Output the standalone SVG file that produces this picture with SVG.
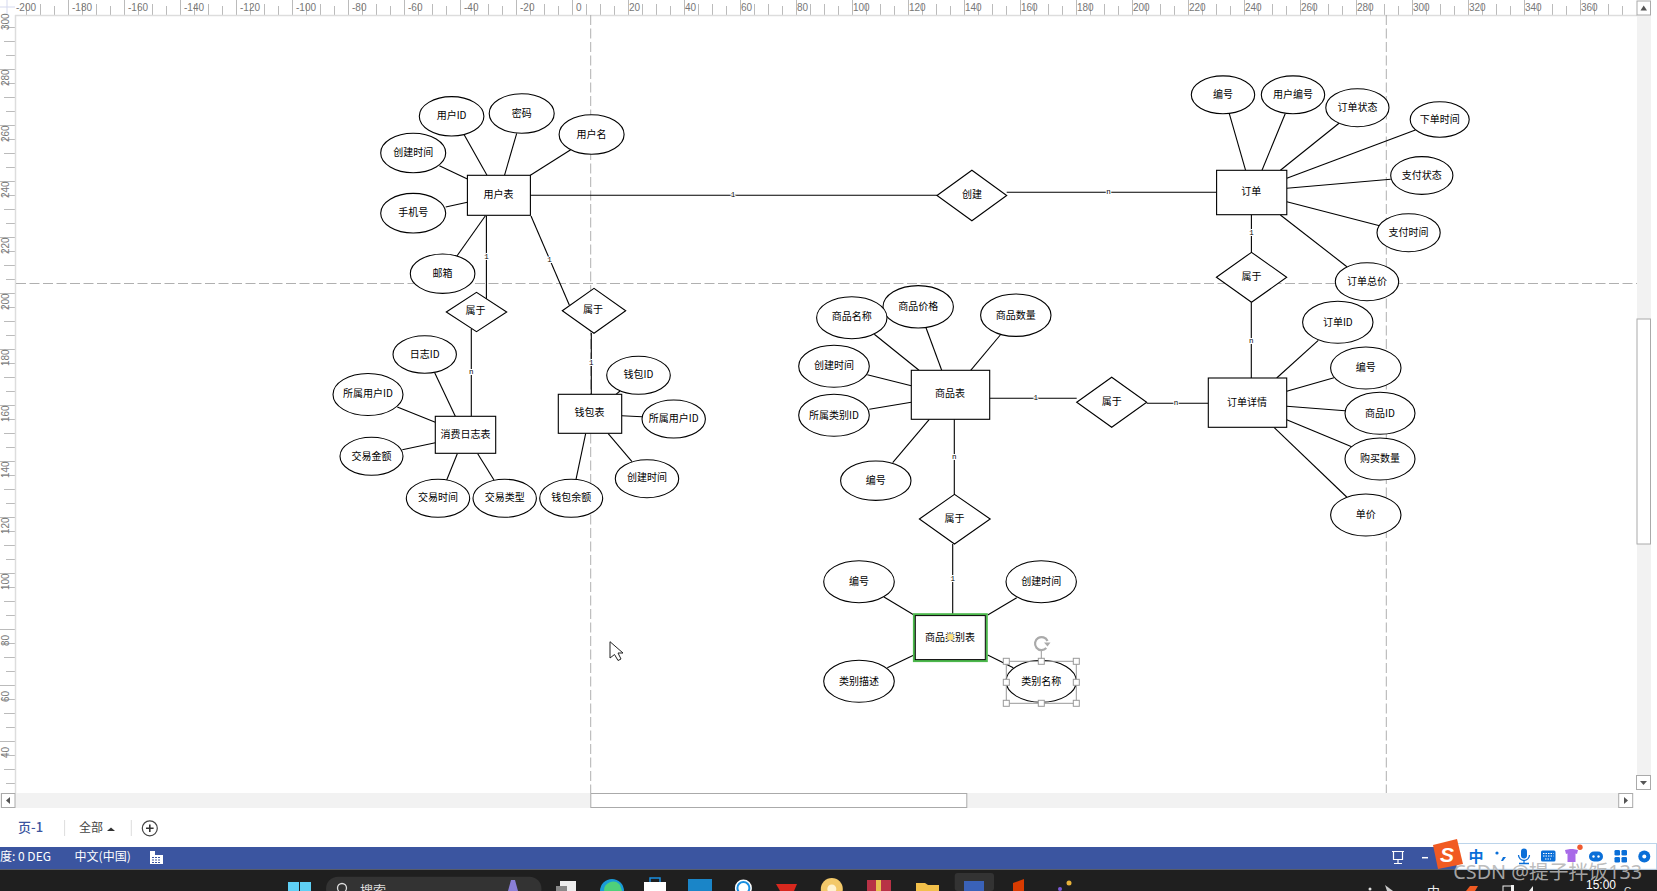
<svg xmlns="http://www.w3.org/2000/svg" width="1657" height="891" viewBox="0 0 1657 891">
<style>
.s{fill:#fff;stroke:#000;stroke-width:1.1}
.t{font:10px "Noto Sans CJK SC","Liberation Sans",sans-serif;fill:#000;text-anchor:middle}
.c line{stroke:#000;stroke-width:1.1}
.l{font:7.5px "Liberation Mono",monospace;fill:#000;text-anchor:middle;stroke:#fff;stroke-width:2;paint-order:stroke}
.g{stroke:#b0b0b0;stroke-width:1;stroke-dasharray:10 3.5;fill:none}
.r{font:10px "Liberation Sans",sans-serif;fill:#777}
.h{fill:#fff;stroke:#999;stroke-width:1}
.u{font:12px "Noto Sans CJK SC","Liberation Sans",sans-serif;fill:#fff}
.b{fill:#f2f2f2}
.btn{fill:#fff;stroke:#aaa;stroke-width:1}
.ime{fill:#0a6fd8}
</style>
<defs>
<pattern id="px" patternUnits="userSpaceOnUse" x="12" y="0" width="56" height="15">
<path d="M.5 0V15M14.5 4V15M28.5 4V15M42.5 6V15" stroke="#bbb" fill="none"/>
</pattern>
<pattern id="py" patternUnits="userSpaceOnUse" x="0" y="13" width="15" height="56">
<path d="M0 .5H15M1 14.5H15M4 28.5H15M6 42.5H15" stroke="#bbb" fill="none"/>
</pattern>
</defs>
<rect width="1657" height="891" fill="#fff"/>

<g id="rulers">
<rect x="16" y="0" width="1620" height="15" fill="url(#px)"/>
<rect x="0" y="15" width="15" height="778" fill="url(#py)"/>
<path d="M0 7H15M7 0V15" stroke="#d5d9ee" fill="none"/>
<path d="M15.5 15V793M15 15.5H1637" stroke="#ddd" stroke-width="1.5" fill="none"/>
<g class="r">
<text x="16" y="10.5">-200</text><text x="72" y="10.5">-180</text><text x="128" y="10.5">-160</text><text x="184" y="10.5">-140</text><text x="240" y="10.5">-120</text><text x="296" y="10.5">-100</text><text x="352" y="10.5">-80</text><text x="408" y="10.5">-60</text><text x="464" y="10.5">-40</text><text x="520" y="10.5">-20</text><text x="576" y="10.5">0</text><text x="629" y="10.5">20</text><text x="685" y="10.5">40</text><text x="741" y="10.5">60</text><text x="797" y="10.5">80</text><text x="853" y="10.5">100</text><text x="909" y="10.5">120</text><text x="965" y="10.5">140</text><text x="1021" y="10.5">160</text><text x="1077" y="10.5">180</text><text x="1133" y="10.5">200</text><text x="1189" y="10.5">220</text><text x="1245" y="10.5">240</text><text x="1301" y="10.5">260</text><text x="1357" y="10.5">280</text><text x="1413" y="10.5">300</text><text x="1469" y="10.5">320</text><text x="1525" y="10.5">340</text><text x="1581" y="10.5">360</text>
<text transform="translate(8.5,30) rotate(-90)">300</text><text transform="translate(8.5,86) rotate(-90)">280</text><text transform="translate(8.5,142) rotate(-90)">260</text><text transform="translate(8.5,198) rotate(-90)">240</text><text transform="translate(8.5,254) rotate(-90)">220</text><text transform="translate(8.5,310) rotate(-90)">200</text><text transform="translate(8.5,366) rotate(-90)">180</text><text transform="translate(8.5,422) rotate(-90)">160</text><text transform="translate(8.5,478) rotate(-90)">140</text><text transform="translate(8.5,534) rotate(-90)">120</text><text transform="translate(8.5,590) rotate(-90)">100</text><text transform="translate(8.5,646) rotate(-90)">80</text><text transform="translate(8.5,702) rotate(-90)">60</text><text transform="translate(8.5,758) rotate(-90)">40</text>
</g>
</g>

<g id="guides">
<path class="g" d="M16 283.5H1637"/>
<path class="g" d="M590.7 15V793"/>
<path class="g" d="M1386.3 15V793"/>
</g>

<g id="connectors" class="c">
<line x1="464.3" y1="135" x2="487" y2="175.3"/>
<line x1="516.7" y1="133.3" x2="504.5" y2="175.3"/>
<line x1="570.7" y1="149.7" x2="530.4" y2="175.3"/>
<line x1="439.4" y1="165.7" x2="467.4" y2="179"/>
<line x1="445.7" y1="207" x2="467.4" y2="202.3"/>
<line x1="456.9" y1="256" x2="485.4" y2="215.7"/>
<line x1="486.4" y1="215.7" x2="486.4" y2="299"/>
<line x1="531" y1="216" x2="569.3" y2="305"/>
<line x1="530.4" y1="195.3" x2="937" y2="195.3"/>
<line x1="1006.7" y1="192.3" x2="1216.6" y2="192.3"/>
<line x1="1229.3" y1="113.7" x2="1245.6" y2="170.3"/>
<line x1="1285.2" y1="113.7" x2="1262" y2="170.3"/>
<line x1="1339" y1="123.3" x2="1280.4" y2="170.3"/>
<line x1="1415.4" y1="130" x2="1286.8" y2="178.3"/>
<line x1="1390.7" y1="179.3" x2="1286.8" y2="188.3"/>
<line x1="1379.6" y1="225.7" x2="1286.8" y2="201.7"/>
<line x1="1346.9" y1="266.7" x2="1280.4" y2="215"/>
<line x1="1251.4" y1="215" x2="1251.4" y2="252.5"/>
<line x1="1251.3" y1="302.3" x2="1251.3" y2="378"/>
<line x1="1318.3" y1="340.3" x2="1276.7" y2="378"/>
<line x1="1334" y1="377.7" x2="1286.7" y2="391.3"/>
<line x1="1345" y1="410.7" x2="1286.7" y2="406.3"/>
<line x1="1351.7" y1="446.7" x2="1286.7" y2="419.7"/>
<line x1="1346.7" y1="497" x2="1274" y2="427.3"/>
<line x1="1146.7" y1="403.3" x2="1208.3" y2="403.3"/>
<line x1="989.7" y1="398.3" x2="1076.7" y2="398.3"/>
<line x1="874.3" y1="334.3" x2="919" y2="370.3"/>
<line x1="926" y1="327.7" x2="941.7" y2="370.3"/>
<line x1="1000.3" y1="335" x2="970.7" y2="370.3"/>
<line x1="867.3" y1="374.7" x2="911.3" y2="385.7"/>
<line x1="869.3" y1="409.3" x2="911.3" y2="402.3"/>
<line x1="892.7" y1="462.7" x2="929.3" y2="419.3"/>
<line x1="954.3" y1="419.3" x2="954.3" y2="494.3"/>
<line x1="952.7" y1="544" x2="952.7" y2="614.3"/>
<line x1="884" y1="597" x2="914" y2="615"/>
<line x1="1016.7" y1="597.7" x2="987.7" y2="615"/>
<line x1="887.3" y1="667.7" x2="914" y2="655"/>
<line x1="987.7" y1="655" x2="1013.3" y2="667.7"/>
<line x1="471.3" y1="329" x2="471.3" y2="416.3"/>
<line x1="591.3" y1="333" x2="591.3" y2="394.3"/>
<line x1="434.7" y1="372.7" x2="455.3" y2="416.3"/>
<line x1="397.3" y1="407" x2="435.3" y2="422.3"/>
<line x1="402.3" y1="449.7" x2="435.3" y2="442.7"/>
<line x1="446.7" y1="480" x2="457.3" y2="453.7"/>
<line x1="494" y1="480" x2="477.7" y2="453.7"/>
<line x1="576" y1="479.3" x2="585.7" y2="433.3"/>
<line x1="632" y1="461.7" x2="608" y2="433.3"/>
<line x1="642" y1="416.7" x2="621.7" y2="415.7"/>
<line x1="620" y1="391" x2="616" y2="394.3"/>
<text class="l" x="486.4" y="259">1</text>
<text class="l" x="549.5" y="261.5">1</text>
<text class="l" x="733" y="197">1</text>
<text class="l" x="1108.5" y="194">n</text>
<text class="l" x="1251.4" y="234.5">1</text>
<text class="l" x="1251.3" y="343">n</text>
<text class="l" x="1035.7" y="400">1</text>
<text class="l" x="1176" y="405">n</text>
<text class="l" x="954.3" y="459">n</text>
<text class="l" x="952.7" y="580.5">1</text>
<text class="l" x="471.3" y="374">n</text>
<text class="l" x="591.3" y="364.5">1</text>
</g>

<g id="user-table"><rect class="s" x="467.4" y="175.3" width="63" height="40"/><text class="t" x="498.5" y="198">用户表</text></g>
<g id="user-id"><ellipse class="s" cx="451.6" cy="116.3" rx="32.3" ry="19.7"/><text class="t" x="451.6" y="119">用户ID</text></g>
<g id="user-pwd"><ellipse class="s" cx="521.7" cy="113.5" rx="32.5" ry="19.8"/><text class="t" x="521.7" y="117">密码</text></g>
<g id="user-name"><ellipse class="s" cx="591.6" cy="134.5" rx="32.5" ry="19.8"/><text class="t" x="591.6" y="138">用户名</text></g>
<g id="user-created"><ellipse class="s" cx="413.2" cy="153" rx="32.5" ry="19.7"/><text class="t" x="413.2" y="156">创建时间</text></g>
<g id="user-phone"><ellipse class="s" cx="413.2" cy="213.2" rx="32.5" ry="19.8"/><text class="t" x="413.2" y="216">手机号</text></g>
<g id="user-mail"><ellipse class="s" cx="442.6" cy="273.7" rx="32.3" ry="19.7"/><text class="t" x="442.6" y="277">邮箱</text></g>

<g id="rel-create"><polygon class="s" points="937,195.5 971.9,170.3 1006.7,195.5 971.9,220.7"/><text class="t" x="971.9" y="198">创建</text></g>
<g id="rel-belong-log"><polygon class="s" points="446.3,312 476.5,292.3 506.7,312 476.5,331.7"/><text class="t" x="475.5" y="314">属于</text></g>
<g id="rel-belong-wallet"><polygon class="s" points="562.3,310.8 594,288.3 625.7,310.8 594,333.3"/><text class="t" x="593" y="313">属于</text></g>

<g id="log-table"><rect class="s" x="435.3" y="416.3" width="60.4" height="37"/><text class="t" x="465.5" y="437.5">消费日志表</text></g>
<g id="log-id"><ellipse class="s" cx="424.7" cy="354.5" rx="31.7" ry="18.8"/><text class="t" x="424.7" y="358">日志ID</text></g>
<g id="log-user"><ellipse class="s" cx="368" cy="394.5" rx="35" ry="21"/><text class="t" x="368" y="397">所属用户ID</text></g>
<g id="log-amount"><ellipse class="s" cx="371.5" cy="456.3" rx="31.5" ry="19"/><text class="t" x="371.5" y="459.5">交易金额</text></g>
<g id="log-time"><ellipse class="s" cx="438" cy="498.3" rx="31.7" ry="19"/><text class="t" x="438" y="501">交易时间</text></g>
<g id="log-type"><ellipse class="s" cx="504.7" cy="498.3" rx="31.7" ry="19"/><text class="t" x="504.7" y="501">交易类型</text></g>

<g id="wallet-table"><rect class="s" x="558.3" y="394.3" width="63.4" height="39"/><text class="t" x="589.5" y="416">钱包表</text></g>
<g id="wallet-id"><ellipse class="s" cx="638.5" cy="375.3" rx="31.8" ry="19"/><text class="t" x="638.5" y="378">钱包ID</text></g>
<g id="wallet-user"><ellipse class="s" cx="673.7" cy="419" rx="31.7" ry="19"/><text class="t" x="673.7" y="422">所属用户ID</text></g>
<g id="wallet-created"><ellipse class="s" cx="647" cy="478.7" rx="31.7" ry="19"/><text class="t" x="647" y="481">创建时间</text></g>
<g id="wallet-balance"><ellipse class="s" cx="571.2" cy="498.3" rx="31.5" ry="19"/><text class="t" x="571.2" y="501">钱包余额</text></g>

<g id="order-table"><rect class="s" x="1216.6" y="170.3" width="70.2" height="44.4"/><text class="t" x="1251.3" y="194.5">订单</text></g>
<g id="order-no"><ellipse class="s" cx="1223" cy="94.8" rx="31.7" ry="18.9"/><text class="t" x="1223" y="98">编号</text></g>
<g id="order-user"><ellipse class="s" cx="1293" cy="94.8" rx="31.7" ry="18.9"/><text class="t" x="1293" y="98">用户编号</text></g>
<g id="order-status"><ellipse class="s" cx="1357.4" cy="107.7" rx="31.6" ry="19"/><text class="t" x="1357.4" y="111">订单状态</text></g>
<g id="order-time"><ellipse class="s" cx="1439.7" cy="119.5" rx="29.5" ry="17.8"/><text class="t" x="1439.7" y="123">下单时间</text></g>
<g id="order-pay"><ellipse class="s" cx="1421.8" cy="175.5" rx="31.1" ry="18.9"/><text class="t" x="1421.8" y="179">支付状态</text></g>
<g id="order-paytime"><ellipse class="s" cx="1408.6" cy="232.7" rx="31.6" ry="19"/><text class="t" x="1408.6" y="236">支付时间</text></g>
<g id="order-total"><ellipse class="s" cx="1367" cy="281.7" rx="31.7" ry="19"/><text class="t" x="1367" y="285">订单总价</text></g>

<g id="rel-belong-order"><polygon class="s" points="1216.4,277.3 1251.5,252.3 1286.7,277.3 1251.5,302.3"/><text class="t" x="1251.5" y="279.5">属于</text></g>

<g id="detail-table"><rect class="s" x="1208.3" y="378" width="78.4" height="49.3"/><text class="t" x="1247" y="406">订单详情</text></g>
<g id="detail-order"><ellipse class="s" cx="1337.8" cy="322.3" rx="35.2" ry="21"/><text class="t" x="1337.8" y="325.5">订单ID</text></g>
<g id="detail-no"><ellipse class="s" cx="1365.8" cy="368" rx="35.2" ry="21"/><text class="t" x="1365.8" y="371">编号</text></g>
<g id="detail-goods"><ellipse class="s" cx="1380" cy="413.3" rx="35" ry="21"/><text class="t" x="1380" y="416.5">商品ID</text></g>
<g id="detail-qty"><ellipse class="s" cx="1380" cy="459" rx="35" ry="21"/><text class="t" x="1380" y="462">购买数量</text></g>
<g id="detail-price"><ellipse class="s" cx="1365.8" cy="515" rx="35.2" ry="21"/><text class="t" x="1365.8" y="518">单价</text></g>

<g id="rel-belong-goods"><polygon class="s" points="1076.7,402.3 1111.7,377.3 1146.7,402.3 1111.7,427.3"/><text class="t" x="1111.7" y="405">属于</text></g>

<g id="goods-table"><rect class="s" x="911.3" y="370.3" width="78.4" height="49"/><text class="t" x="950" y="396.5">商品表</text></g>
<g id="goods-price"><ellipse class="s" cx="918.2" cy="306.8" rx="35.2" ry="21.2"/><text class="t" x="918.2" y="310">商品价格</text></g>
<g id="goods-name"><ellipse class="s" cx="851.8" cy="317.7" rx="35.2" ry="21"/><text class="t" x="851.8" y="320">商品名称</text></g>
<g id="goods-qty"><ellipse class="s" cx="1015.8" cy="315.2" rx="35.2" ry="21.2"/><text class="t" x="1015.8" y="318.5">商品数量</text></g>
<g id="goods-created"><ellipse class="s" cx="834" cy="366.3" rx="35.3" ry="21"/><text class="t" x="834" y="369">创建时间</text></g>
<g id="goods-cat"><ellipse class="s" cx="834" cy="415.3" rx="35.3" ry="21"/><text class="t" x="834" y="418.5">所属类别ID</text></g>
<g id="goods-no"><ellipse class="s" cx="875.8" cy="480.7" rx="35.2" ry="19.7"/><text class="t" x="875.8" y="484">编号</text></g>

<g id="rel-belong-cat"><polygon class="s" points="919.4,519 954.5,494.3 990.2,519 954.5,544"/><text class="t" x="954.5" y="521.5">属于</text></g>

<g id="cat-table"><rect x="914" y="614.3" width="72.7" height="46.7" fill="#fff" stroke="#4cb84c" stroke-width="2.2"/><rect x="915.3" y="615.6" width="70" height="44" fill="none" stroke="#000" stroke-width="1"/><text class="t" x="950" y="640.5">商品类别表</text><rect x="947.3" y="634" width="6" height="6" fill="#ffe27a" stroke="#bbb" stroke-width=".5"/></g>
<g id="cat-no"><ellipse class="s" cx="859" cy="581.7" rx="35.3" ry="21"/><text class="t" x="859" y="585">编号</text></g>
<g id="cat-created"><ellipse class="s" cx="1041.2" cy="581.7" rx="35.2" ry="21"/><text class="t" x="1041.2" y="585">创建时间</text></g>
<g id="cat-desc"><ellipse class="s" cx="859" cy="681.3" rx="35.3" ry="21"/><text class="t" x="859" y="684.5">类别描述</text></g>
<g id="cat-name"><ellipse class="s" cx="1041.2" cy="681.3" rx="35.2" ry="21"/><text class="t" x="1041.2" y="684.5">类别名称</text></g>

<g id="selection">
<rect x="1006.3" y="661.3" width="70" height="42" fill="none" stroke="#999"/>
<path d="M1041.3 650V661.3" stroke="#999" fill="none"/>
<path d="M1046.3 648A6.5 6.5 0 1 1 1047.5 641" stroke="#aaa" stroke-width="2.2" fill="none"/>
<path d="M1044 642.5H1050.5L1047.5 646.5Z" fill="#aaa"/>
<rect class="h" x="1003.3" y="658.3" width="6" height="6"/><rect class="h" x="1038.3" y="658.3" width="6" height="6"/><rect class="h" x="1073.3" y="658.3" width="6" height="6"/>
<rect class="h" x="1003.3" y="679.3" width="6" height="6"/><rect class="h" x="1073.3" y="679.3" width="6" height="6"/>
<rect class="h" x="1003.3" y="700.3" width="6" height="6"/><rect class="h" x="1038.3" y="700.3" width="6" height="6"/><rect class="h" x="1073.3" y="700.3" width="6" height="6"/>
</g>

<path id="cursor" d="M610 641.7V658L614.5 654.5L618 660.5L621 659L618 653L623 653Z" fill="#fff" stroke="#222" stroke-width="1"/>

<g id="scrollbars">
<rect class="b" x="1637" y="15" width="14" height="760"/>
<rect class="btn" x="1637" y="1" width="13.5" height="14"/>
<path d="M1640.5 10.5L1643.7 5.5L1647 10.5Z" fill="#555"/>
<rect class="btn" x="1637" y="319" width="13.5" height="225"/>
<rect class="btn" x="1636.5" y="775.5" width="14" height="14"/>
<path d="M1640 781L1647 781L1643.5 785Z" fill="#555"/>
<rect class="b" x="0" y="793" width="1633" height="15"/>
<rect class="btn" x="1.5" y="793.5" width="13.5" height="14"/>
<path d="M10 797V804L6 800.5Z" fill="#555"/>
<rect class="btn" x="590.8" y="793.5" width="376" height="14"/>
<rect class="btn" x="1618.7" y="793.5" width="14" height="14"/>
<path d="M1624 797V804L1628 800.5Z" fill="#555"/>
</g>

<g id="page-tabs">
<text x="18" y="832" font-family="'Noto Sans CJK SC',sans-serif" font-size="13" font-weight="500" fill="#3b55a0">页-1</text>
<path d="M64.6 820V836M131.3 820V836" stroke="#ddd" fill="none"/>
<text x="79" y="832" font-family="'Noto Sans CJK SC',sans-serif" font-size="12" fill="#444">全部</text>
<path d="M107 831L111 827.5L115 831Z" fill="#333"/>
<circle cx="149.8" cy="828.3" r="7.5" fill="#fff" stroke="#444" stroke-width="1.2"/>
<path d="M146 828.3H153.6M149.8 824.5V832.1" stroke="#333" stroke-width="1.6" fill="none"/>
</g>

<g id="status-bar">
<rect x="0" y="847" width="1657" height="22.4" fill="#3b55a0"/>
<text class="u" x="0" y="861">度: 0 DEG</text>
<text class="u" x="74.6" y="861">中文(中国)</text>
<path d="M150 851H155V855H163V864H150Z" fill="#fff"/>
<path d="M152 857.5H161M152 860H161M152 862.5H161" stroke="#3b55a0" stroke-dasharray="2 1" fill="none"/>
<path d="M1392 851.5H1404M1393.5 851.5V859.5H1402.5V851.5M1398 859.5V863M1394 863.5H1402" stroke="#fff" stroke-width="1.2" fill="none"/>
<path d="M1422 857.7H1428" stroke="#fff" stroke-width="1.5" fill="none"/>
</g>

<g id="taskbar">
<rect x="0" y="869.4" width="1657" height="21.6" fill="#1f1f1f"/>
<path d="M288 882H299V891H288ZM300 882H311V891H300Z" fill="#5fd0f5"/>
<rect x="326" y="876.7" width="215.5" height="24" rx="12" fill="#333"/>
<circle cx="342" cy="888" r="4.5" fill="none" stroke="#ddd" stroke-width="1.3"/>
<text x="360" y="895" font-family="'Noto Sans CJK SC',sans-serif" font-size="13" fill="#ddd">搜索</text>
<path d="M508 891L511 880H515L518 891Z" fill="#8a7fd8"/>
<rect x="560" y="881" width="16" height="10" fill="#eee"/><rect x="556" y="886" width="11" height="5" fill="#888"/>
<circle cx="612" cy="891" r="12" fill="#1a9bd8"/><path d="M604 891A9 9 0 0 1 620 885L622 891Z" fill="#4fd07a"/>
<rect x="644" y="882" width="22" height="9" fill="#fff"/><path d="M650 882V878H660V882" stroke="#1a8fe0" stroke-width="1.5" fill="none"/>
<rect x="688" y="879" width="24" height="12" fill="#1a85c8"/>
<circle cx="743.4" cy="888" r="8.5" fill="#fff"/><circle cx="743.4" cy="888" r="6" fill="none" stroke="#1a8fe0" stroke-width="2"/>
<path d="M776 884H797L794 891H780Z" fill="#d8281e"/>
<circle cx="831.8" cy="889" r="11" fill="#f3c96a"/><circle cx="831.8" cy="889" r="4.5" fill="#fff3d0"/>
<rect x="867" y="880" width="24" height="11" fill="#b83246"/><rect x="876" y="880" width="5" height="11" fill="#e8c050"/>
<path d="M916 883H925L928 885H939V891H916Z" fill="#f2c04a"/>
<rect x="954.7" y="873" width="39.3" height="18" rx="3" fill="#333"/>
<rect x="964" y="881" width="20" height="10" fill="#3a62b8"/>
<path d="M1013 891V883L1024 879V891Z" fill="#d83b01"/>
<circle cx="1069" cy="883" r="2.5" fill="#e8b23a"/><circle cx="1060" cy="889" r="2" fill="#7a5ad8"/>
<path d="M1385 885L1393 891H1387Z" fill="#ccc"/><circle cx="1370" cy="889" r="1.5" fill="#ddd"/>
<text x="1427" y="896" font-family="'Noto Sans CJK SC',sans-serif" font-size="13" fill="#eee">中</text>
<path d="M1466 891L1470 886H1478L1475 891Z" fill="#f05a22"/>
<rect x="1503" y="886" width="10" height="6" fill="none" stroke="#eee"/><rect x="1511" y="885" width="3" height="6" fill="#eee"/>
<path d="M1529 891L1533 886V891Z" fill="#eee"/>
<text x="1586" y="889" font-family="'Liberation Sans',sans-serif" font-size="12" fill="#fff">15:00</text>
<text x="1624" y="895" font-family="'Liberation Sans',sans-serif" font-size="10" fill="#ddd">G</text>
</g>

<g id="ime-toolbar">
<rect x="1457" y="843.5" width="199.5" height="25.8" fill="#fff" stroke="#bcd4ea"/>
<path d="M1433 845L1457 839L1463 864L1438 869Z" fill="#f15a22"/>
<text x="1447" y="862" font-family="'Liberation Sans',sans-serif" font-size="21" font-weight="bold" font-style="italic" fill="#fff" text-anchor="middle">S</text>
<text x="1476" y="861.5" font-family="'Noto Sans CJK SC',sans-serif" font-size="15" font-weight="bold" fill="#0a6fd8" text-anchor="middle">中</text>
<circle class="ime" cx="1497" cy="853" r="1.6"/><path class="ime" d="M1503 857H1506L1503 861H1501Z"/>
<rect class="ime" x="1521" y="848.5" width="6" height="10" rx="3"/><path d="M1518.5 855A5.5 5.5 0 0 0 1529.5 855M1524 860.5V863M1519 863.5H1529" stroke="#0a6fd8" stroke-width="1.3" fill="none"/>
<rect class="ime" x="1541" y="850.5" width="14.5" height="11" rx="1.5"/><path d="M1543 853.5H1553.5M1543 856H1553.5M1545 859H1551" stroke="#fff" stroke-dasharray="1.5 1" fill="none"/>
<path d="M1565 850L1570 849H1573L1578 850L1577 854L1575.5 853.5V862H1567.5V853.5L1566 854Z" fill="#a86ae8"/>
<circle cx="1580" cy="847.3" r="2.7" fill="#f05a30"/>
<rect class="ime" x="1589" y="851.5" width="14" height="10" rx="5"/><circle cx="1593.5" cy="856.5" r="1.2" fill="#fff"/><circle cx="1598.5" cy="856.5" r="1.2" fill="#fff"/>
<rect class="ime" x="1614.5" y="850" width="5.5" height="5.5" rx="1.3"/><rect class="ime" x="1621.5" y="850" width="5.5" height="5.5" rx="1.3"/><rect class="ime" x="1614.5" y="857" width="5.5" height="5.5" rx="1.3"/><rect class="ime" x="1621.5" y="857" width="5.5" height="5.5" rx="1.3"/>
<circle class="ime" cx="1644.3" cy="856.5" r="6"/><circle cx="1644.3" cy="856.5" r="2" fill="#fff"/>
</g>

<text id="watermark" x="1453.3" y="878.5" font-family="'Noto Sans','Noto Sans CJK SC',sans-serif" font-size="19.8" fill="#b5b5b5" fill-opacity=".9">CSDN @提子拌饭133</text>
</svg>
